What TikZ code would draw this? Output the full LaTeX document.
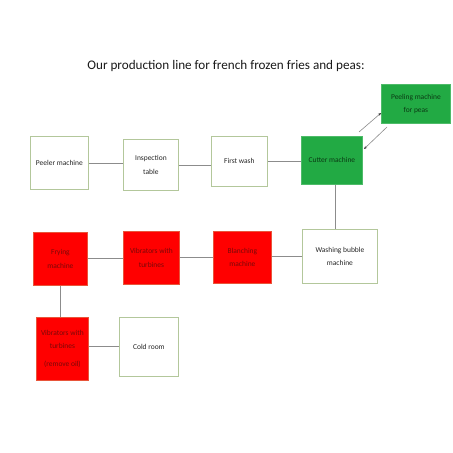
\documentclass[tikz,border=0pt]{standalone}
\usepackage{fontspec}
\setmainfont{Carlito}
\usetikzlibrary{arrows.meta}
\definecolor{wborder}{HTML}{B3C79B}
\definecolor{gfill}{HTML}{22AA44}
\definecolor{gtext}{HTML}{0B3A14}
\definecolor{rfill}{HTML}{FF0000}
\definecolor{rborder}{HTML}{E8553A}
\definecolor{rtext}{HTML}{7A0808}
\definecolor{lgray}{HTML}{8C8C8C}
\tikzset{
  box/.style={draw, line width=0.8bp, align=center, inner sep=1bp,
    font=\fontsize{7.5}{13.5}\selectfont, anchor=north west},
  wbox/.style={box, draw=wborder, fill=white, text=black!85},
  gbox/.style={box, draw=gfill!80!white, fill=gfill, text=gtext},
  rbox/.style={box, draw=rborder, fill=rfill, text=rtext},
  link/.style={draw=lgray, line width=0.7bp},
  arr/.style={draw=lgray, line width=0.6bp, -{Stealth[length=3bp,width=2.5bp,color=black!80]}}
}
\begin{document}
\begin{tikzpicture}[x=1bp,y=-1bp]
\useasboundingbox[fill=white] (0,0) rectangle (453,453);
\node[font=\fontsize{13.2}{15}\selectfont, text=black!90] (title) at (226,66) {Our production line for french frozen fries and peas:};
% row 1
\node[wbox, minimum width=58bp, minimum height=53bp] (peeler) at (30,136) {Peeler machine};
\node[wbox, minimum width=55bp, minimum height=51bp] (insp) at (123,139) {Inspection\\table};
\node[wbox, minimum width=56bp, minimum height=50bp] (wash1) at (211,136) {First wash};
\node[gbox, minimum width=61bp, minimum height=48bp] (cutter) at (301,136) {Cutter machine};
\node[gbox, minimum width=69bp, minimum height=39bp] (peas) at (381,84) {Peeling machine\\for peas};
% row 2
\node[rbox, minimum width=54bp, minimum height=53bp] (fry) at (33,232) {Frying\\machine};
\node[rbox, minimum width=56bp, minimum height=53bp] (vib) at (123,231) {Vibrators with\\turbines};
\node[rbox, minimum width=58bp, minimum height=52bp] (blanch) at (213,231) {Blanching\\machine};
\node[wbox, minimum width=75bp, minimum height=54bp] (bubble) at (302,229) {Washing bubble\\machine};
% row 3
\node[rbox, minimum width=52bp, minimum height=63bp] (vib2) at (36,317) {Vibrators with\\turbines\\[4bp](remove oil)};
\node[wbox, minimum width=59bp, minimum height=59bp] (cold) at (119,317) {Cold room};
% links
\draw[link] (peeler.east) -- (peeler.east -| insp.west);
\draw[link] (insp.east) -- (insp.east -| wash1.west);
\draw[link] (wash1.east) -- (wash1.east -| cutter.west);
\draw[link] (cutter.south) ++(3bp,0) coordinate (cs) -- (cs |- bubble.north);
\draw[link] (bubble.west) -- (bubble.west -| blanch.east);
\draw[link] (blanch.west) -- (blanch.west -| vib.east);
\draw[link] (vib.west) -- (vib.west -| fry.east);
\draw[link] (fry.south) ++(0,0) coordinate (fs) -- (fs |- vib2.north);
\draw[link] (vib2.east) ++(0,3bp) coordinate (vs) -- (vs -| cold.west);
% arrows
\coordinate (a1s) at (359,132);
\coordinate (a1e) at (381,113);
\coordinate (a2s) at (387,127);
\coordinate (a2e) at (364,149);
\draw[arr] (a1s) -- (a1e);
\draw[arr] (a2s) -- (a2e);
\end{tikzpicture}
\end{document}
